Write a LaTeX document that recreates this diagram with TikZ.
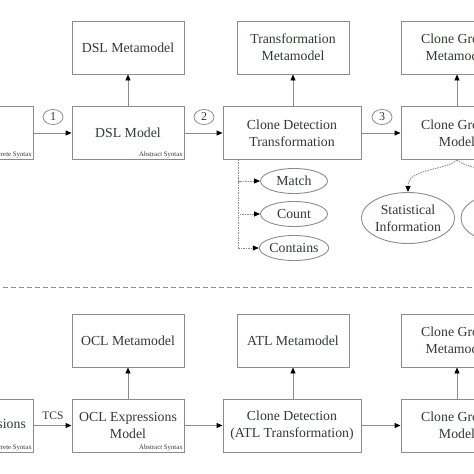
\documentclass[tikz,border=0pt]{standalone}
\usepackage{fontspec}
\setmainfont{Liberation Serif}
\usetikzlibrary{shapes.geometric,arrows.meta,calc}
\definecolor{txt}{HTML}{2E3B32}
\definecolor{bord}{HTML}{8C8C8C}
\tikzset{
  box/.style={draw=bord,line width=0.9pt,rectangle,minimum width=112pt,minimum height=53pt,inner sep=2pt,align=center,text=txt,font=\fontsize{13.8}{16.7}\selectfont},
  wbox/.style={box,minimum width=138pt},
  oval/.style={draw=bord,line width=0.9pt,ellipse,inner sep=0pt,align=center,text=txt,font=\fontsize{13.8}{16.7}\selectfont},
  small/.style={font=\fontsize{6.8}{7}\selectfont,text=txt,inner sep=1.5pt},
  numlab/.style={draw=bord,line width=0.8pt,ellipse,minimum width=20pt,minimum height=15pt,inner sep=0pt,text=txt,font=\fontsize{12}{12}\selectfont},
  lab/.style={text=txt,font=\fontsize{11.5}{12}\selectfont,inner sep=0pt},
  conn/.style={draw=bord,line width=0.9pt,-{Triangle[length=6pt,width=5pt,fill=black,color=black]}},
  dconn/.style={conn,dash pattern=on 1.5pt off 1pt},
  sep/.style={draw=bord,line width=0.9pt,dash pattern=on 5pt off 3pt}
}
\begin{document}
\begin{tikzpicture}[x=1pt,y=-1pt]
\useasboundingbox (0,0) rectangle (474,474);
\clip (0,0) rectangle (474,474);
% top row
\node[box] (lt) at (-23,133) {};
\node[small,anchor=south east] (ltcs) at (lt.south east) {Concrete Syntax};
\node[box] (dslmm) at (128,47.5) {DSL Metamodel};
\node[box] (dslm) at (128,133) {DSL Model};
\node[small,anchor=south east] (dslas) at (dslm.south east) {Abstract Syntax};
\node[box] (trmm) at (293,47.5) {Transformation\\Metamodel};
\node[wbox] (cdt) at (292,133) {Clone Detection\\Transformation};
\node[box] (cgmm) at (457,47.5) {Clone Group\\Metamodel};
\node[box] (cgm) at (457,133) {Clone Group\\Model};
\node[numlab] (n1) at (53,117) {1};
\node[numlab] (n2) at (204,117) {2};
\node[numlab] (n3) at (382,117) {3};
\draw[conn] (lt) -- (dslm);
\draw[conn] (dslm) -- (cdt);
\draw[conn] (cdt) -- (cgm);
\draw[conn] (dslm) -- (dslmm);
\draw[conn] (cgm) -- (cgmm);
\draw[conn] (trmm.south |- cdt.north) -- (trmm.south);
% ellipses
\node[oval,minimum width=67pt,minimum height=25pt] (match) at (294,181) {Match};
\node[oval,minimum width=67pt,minimum height=25pt] (count) at (294,214) {Count};
\node[oval,minimum width=67pt,minimum height=25pt] (contains) at (294,248) {Contains};
\coordinate (tr) at ([xshift=16pt]cdt.south west);
\draw[dconn] (tr) |- (match.west);
\draw[dconn] (tr) |- (count.west);
\draw[dconn] (tr) |- (contains.west);
\node[oval,minimum width=92pt,minimum height=51pt] (stat) at (408,218) {Statistical\\Information};
\node[oval,minimum width=92pt,minimum height=51pt] (other) at (507,218) {};
\draw[dconn] (cgm.south) .. controls (445,171) and (408,168) .. (stat.north);
\draw[dconn] (cgm.south) .. controls (469,171) and (507,168) .. (other.north);
% separator
\coordinate (sl) at (-5,287);
\coordinate (sr) at (480,287);
\draw[sep] (sl) -- (sr);
% bottom row
\node[box] (lb) at (-23,425.5) {OCL Expressions};
\node[small,anchor=south east] (lbcs) at (lb.south east) {Concrete Syntax};
\node[box] (oclmm) at (128,340.5) {OCL Metamodel};
\node[box] (oclm) at (128,425.5) {OCL Expressions\\Model};
\node[small,anchor=south east] (oclas) at (oclm.south east) {Abstract Syntax};
\node[box] (atlmm) at (293,340.5) {ATL Metamodel};
\node[wbox] (cda) at (292,425.5) {Clone Detection\\(ATL Transformation)};
\node[box] (cgmm2) at (457,340.5) {Clone Group\\Metamodel};
\node[box] (cgm2) at (457,425.5) {Clone Group\\Model};
\node[lab] (tcs) at (53,416) {TCS};
\draw[conn] (lb) -- (oclm);
\draw[conn] (oclm) -- (cda);
\draw[conn] (cda) -- (cgm2);
\draw[conn] (oclm) -- (oclmm);
\draw[conn] (cgm2) -- (cgmm2);
\draw[conn] (atlmm.south |- cda.north) -- (atlmm.south);
\end{tikzpicture}
\end{document}
